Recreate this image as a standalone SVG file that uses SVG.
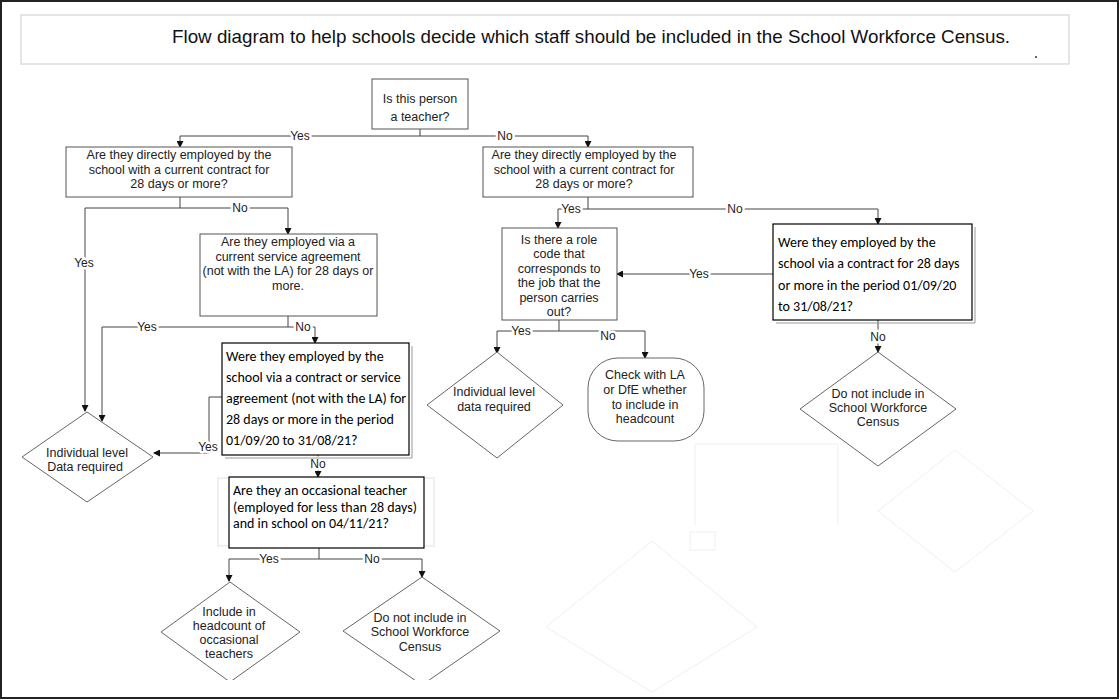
<svg xmlns="http://www.w3.org/2000/svg" width="1120" height="700" viewBox="0 0 1120 700">
<defs>
<style>
.box{fill:#fff;stroke:#555;stroke-width:1}
.bbox{fill:#fff;stroke:#000;stroke-width:1.2}
.shadow{fill:none;stroke:#999;stroke-width:1}
.dia{fill:#fff;stroke:#666;stroke-width:1}
.faint{fill:none;stroke:#efefef;stroke-width:1}
.t{font-family:"Liberation Sans",Arial,sans-serif;font-size:12.5px;fill:#222;text-anchor:middle}
.c{font-family:Carlito,Lato,"Open Sans",sans-serif;font-size:14px;fill:#000}
.lbl{font-family:"Liberation Sans",Arial,sans-serif;font-size:12px;fill:#222;text-anchor:middle;paint-order:stroke;stroke:#fff;stroke-width:5px;stroke-linejoin:round}
.con{fill:none;stroke:#444;stroke-width:1}
</style>
<marker id="ah" markerWidth="7" markerHeight="7" refX="6" refY="3.5" orient="auto" markerUnits="userSpaceOnUse">
<path d="M0,0 L7,3.5 L0,7 z" fill="#111"/>
</marker>
<clipPath id="clipb"><rect x="0" y="0" width="1120" height="680"/></clipPath>
</defs>
<rect x="0" y="0" width="1120" height="700" fill="#fff"/>
<rect x="1" y="1" width="1117" height="697" fill="none" stroke="#222" stroke-width="2"/>

<g id="title">
<rect x="21" y="15" width="1048" height="49" fill="#fff" stroke="#ddd" stroke-width="1.5"/>
<text x="591" y="43" font-family="'Liberation Sans',Arial,sans-serif" font-size="19" fill="#111" text-anchor="middle" textLength="838" lengthAdjust="spacingAndGlyphs">Flow diagram to help schools decide which staff should be included in the School Workforce Census.</text>
<circle cx="1036" cy="57" r="1" fill="#333"/>
</g>

<g id="faint-shapes">
<path class="faint" d="M695,525 V444 H838 V525"/>
<rect class="faint" x="690" y="532" width="25" height="18"/>
<polygon class="faint" points="878,511 955,450 1033,511 955,572"/>
<polygon class="faint" points="546,627 652,541 757,627 652,692"/>
<rect x="218" y="478" width="216" height="68" fill="none" stroke="#e2e2e2" stroke-width="1"/>
</g>

<g id="connectors">
<path class="con" d="M420,129 V136"/>
<path class="con" d="M420,136 H180 V147" marker-end="url(#ah)"/>
<path class="con" d="M420,136 H588 V147" marker-end="url(#ah)"/>
<path class="con" d="M180,197 V208"/>
<path class="con" d="M180,208 H85 V411" marker-end="url(#ah)"/>
<path class="con" d="M180,208 H288 V234" marker-end="url(#ah)"/>
<path class="con" d="M288,316 V327"/>
<path class="con" d="M288,327 H102 V421" marker-end="url(#ah)"/>
<path class="con" d="M288,327 H315 V343" marker-end="url(#ah)"/>
<path class="con" d="M222,397 H209 V453 H154" marker-end="url(#ah)"/>
<path class="con" d="M318,455 V477" marker-end="url(#ah)"/>
<path class="con" d="M319,548 V559"/>
<path class="con" d="M319,559 H229 V581" marker-end="url(#ah)"/>
<path class="con" d="M319,559 H422 V577" marker-end="url(#ah)"/>
<path class="con" d="M588,197 V209"/>
<path class="con" d="M588,209 H558 V228" marker-end="url(#ah)"/>
<path class="con" d="M588,209 H878 V224" marker-end="url(#ah)"/>
<path class="con" d="M773,274 H617" marker-end="url(#ah)"/>
<path class="con" d="M559,320 V331"/>
<path class="con" d="M559,331 H497 V353" marker-end="url(#ah)"/>
<path class="con" d="M559,331 H645 V358" marker-end="url(#ah)"/>
<path class="con" d="M878,320 V352" marker-end="url(#ah)"/>
<text class="lbl" x="300" y="140">Yes</text>
<text class="lbl" x="505" y="140">No</text>
<text class="lbl" x="84" y="267">Yes</text>
<text class="lbl" x="240" y="212">No</text>
<text class="lbl" x="147" y="331">Yes</text>
<text class="lbl" x="303" y="331">No</text>
<text class="lbl" x="208" y="451">Yes</text>
<text class="lbl" x="318" y="468">No</text>
<text class="lbl" x="269" y="563">Yes</text>
<text class="lbl" x="372" y="563">No</text>
<text class="lbl" x="571" y="213">Yes</text>
<text class="lbl" x="735" y="213">No</text>
<text class="lbl" x="699" y="278">Yes</text>
<text class="lbl" x="521" y="335">Yes</text>
<text class="lbl" x="608" y="340">No</text>
<text class="lbl" x="878" y="341">No</text>
</g>

<g id="n-teacher">
<rect class="box" x="372" y="79" width="96" height="50"/>
<text class="t" x="420" y="103">Is this person</text>
<text class="t" x="420" y="121">a teacher?</text>
</g>

<g id="n-direct-teacher">
<rect class="box" x="66" y="147" width="226" height="50"/>
<text class="t" x="179" y="159">Are they directly employed by the</text>
<text class="t" x="179" y="173.5">school with a current contract for</text>
<text class="t" x="179" y="188">28 days or more?</text>
</g>

<g id="n-service">
<rect class="box" x="200" y="234" width="177" height="82"/>
<text class="t" x="288" y="245.5">Are they employed via a</text>
<text class="t" x="288" y="260.5">current service agreement</text>
<text class="t" x="288" y="275">(not with the LA) for 28 days or</text>
<text class="t" x="288" y="290">more.</text>
</g>

<g id="n-period-teacher">
<path class="shadow" d="M412,346 V458 H225"/>
<rect class="bbox" x="222" y="343" width="187" height="112"/>
<text class="c" x="226" y="361">Were they employed by the</text>
<text class="c" x="226" y="382">school via a contract or service</text>
<text class="c" x="226" y="403">agreement (not with the LA) for</text>
<text class="c" x="226" y="424">28 days or more in the period</text>
<text class="c" x="226" y="445">01/09/20 to 31/08/21?</text>
</g>

<g id="n-individual-left">
<polygon class="dia" points="22,457 87,412 153,457 87,502"/>
<text class="t" x="87" y="457">Individual level</text>
<text class="t" x="85" y="471">Data required</text>
</g>

<g id="n-occasional">
<rect class="bbox" x="229" y="477" width="195" height="71"/>
<text class="c" x="233" y="495">Are they an occasional teacher</text>
<text class="c" x="233" y="512">(employed for less than 28 days)</text>
<text class="c" x="233" y="528">and in school on 04/11/21?</text>
</g>

<g id="n-include-occasional" clip-path="url(#clipb)">
<polygon class="dia" points="161,632 230,582 300,632 230,682"/>
<text class="t" x="229" y="615.5">Include in</text>
<text class="t" x="229" y="629.5">headcount of</text>
<text class="t" x="229" y="643.5">occasional</text>
<text class="t" x="229" y="657.5">teachers</text>
</g>

<g id="n-exclude-left" clip-path="url(#clipb)">
<polygon class="dia" points="343,631 422,577 500,631 422,685"/>
<text class="t" x="420" y="621.5">Do not include in</text>
<text class="t" x="420" y="636">School Workforce</text>
<text class="t" x="420" y="650.5">Census</text>
</g>

<g id="n-direct-other">
<rect class="box" x="483" y="147" width="210" height="50"/>
<text class="t" x="584" y="159">Are they directly employed by the</text>
<text class="t" x="584" y="173.5">school with a current contract for</text>
<text class="t" x="584" y="188">28 days or more?</text>
</g>

<g id="n-role-code">
<rect class="box" x="502" y="228" width="115" height="92"/>
<text class="t" x="559" y="243.5">Is there a role</text>
<text class="t" x="559" y="258">code that</text>
<text class="t" x="559" y="272.5">corresponds to</text>
<text class="t" x="559" y="287">the job that the</text>
<text class="t" x="559" y="301.5">person carries</text>
<text class="t" x="559" y="315.5">out?</text>
</g>

<g id="n-period-other">
<path class="shadow" d="M975,227 V323 H776"/>
<rect class="bbox" x="773" y="224" width="199" height="96"/>
<text class="c" x="778" y="247">Were they employed by the</text>
<text class="c" x="778" y="268">school via a contract for 28 days</text>
<text class="c" x="778" y="290">or more in the period 01/09/20</text>
<text class="c" x="778" y="311">to 31/08/21?</text>
</g>

<g id="n-individual-right">
<polygon class="dia" points="427,405 497,352 563,405 497,458"/>
<text class="t" x="494" y="395.5">Individual level</text>
<text class="t" x="494" y="410.5">data required</text>
</g>

<g id="n-check-la">
<rect class="dia" x="588" y="358" width="116" height="83" rx="30" ry="30"/>
<text class="t" x="645" y="378.5">Check with LA</text>
<text class="t" x="645" y="393.5">or DfE whether</text>
<text class="t" x="645" y="408.5">to include in</text>
<text class="t" x="645" y="422.5">headcount</text>
</g>

<g id="n-exclude-right">
<polygon class="dia" points="800,409 878,352 956,409 878,466"/>
<text class="t" x="878" y="397.5">Do not include in</text>
<text class="t" x="878" y="411.5">School Workforce</text>
<text class="t" x="878" y="425.5">Census</text>
</g>
</svg>
